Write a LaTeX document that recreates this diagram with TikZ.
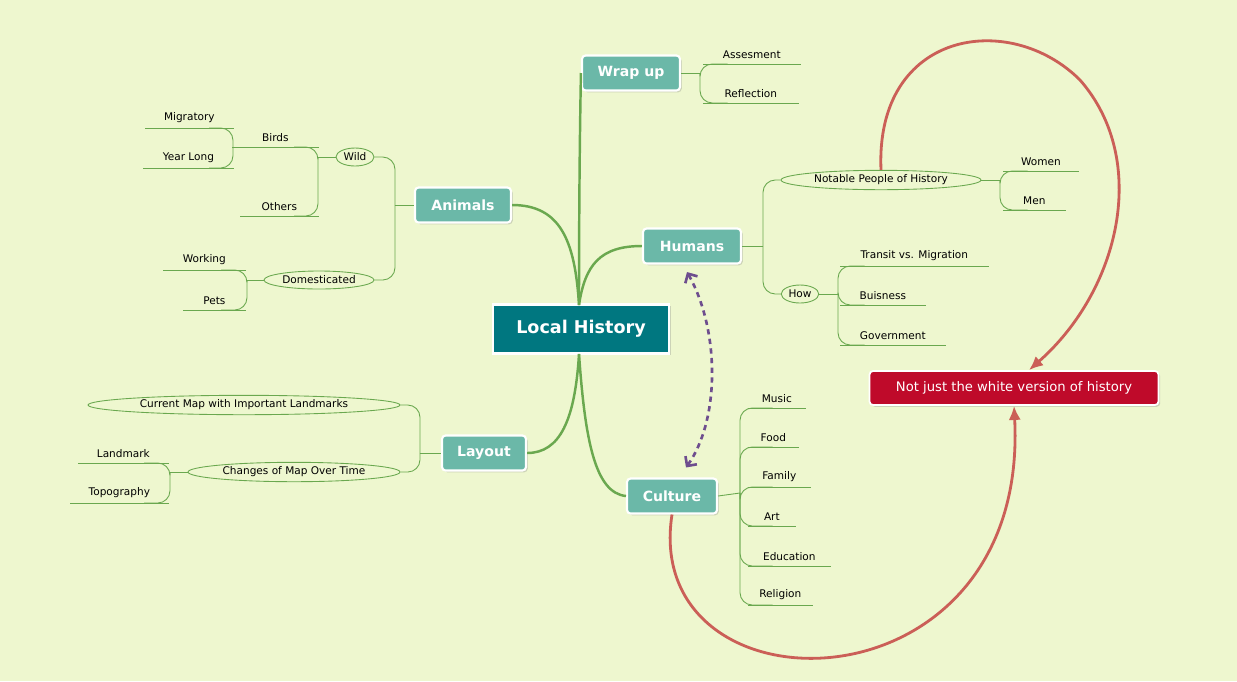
\documentclass[tikz,border=0pt]{standalone}
\usepackage{fontspec}
\setmainfont{DejaVu Sans}
\usetikzlibrary{arrows.meta,shadows,shapes.geometric}
\definecolor{bg}{HTML}{EEF7CF}
\definecolor{br}{HTML}{6AA84F}
\definecolor{tealbox}{HTML}{6BB8A8}
\definecolor{central}{HTML}{007780}
\definecolor{redbox}{HTML}{BF0A2A}
\definecolor{redline}{HTML}{CB5F57}
\definecolor{purp}{HTML}{6E4E8E}
\tikzset{
 main/.style={fill=tealbox,draw=white,line width=1.2pt,rounded corners=2pt,text=white,font=\bfseries\fontsize{8}{9}\selectfont,minimum height=0.7cm,drop shadow={opacity=0.3,shadow xshift=1pt,shadow yshift=-1pt}},
 leaf/.style={anchor=south west,inner xsep=0pt,inner ysep=3pt,font=\fontsize{6}{7}\selectfont,align=center,
   append after command={(\tikzlastnode.south west) edge[twig] (\tikzlastnode.south east)}},
 twig/.style={draw=br,line width=0.5pt},
 jt/.style={draw=br,line width=0.5pt,rounded corners=7pt},
 bough/.style={draw=br,line width=1.4pt},
 ell/.style={ellipse,draw=br,line width=0.5pt,fill=bg,inner sep=1pt,font=\fontsize{6}{7}\selectfont},
}
\newcommand\conR[2]{\draw[jt] (#1) |- ([xshift=14pt]#2.south west);}
\newcommand\conL[2]{\draw[jt] (#1) |- ([xshift=-14pt]#2.south east);}
\begin{document}
\begin{tikzpicture}[x=0.02cm,y=-0.02cm]
\fill[bg] (0,0) rectangle (1237,681);
\useasboundingbox (0,0) rectangle (1237,681);
% boughs first
\coordinate (ct) at (579,305); \coordinate (cb) at (579,354);
\node[fill=central,draw=white,line width=1.5pt,text=white,font=\bfseries\fontsize{10}{12}\selectfont,minimum width=3.52cm,minimum height=0.98cm,drop shadow={opacity=0.3,shadow xshift=1pt,shadow yshift=-1pt}] (c) at (581,329) {Local History};
\node[main,minimum width=1.96cm] (wrap) at (631,73) {Wrap up};
\node[main,minimum width=1.96cm] (hum) at (692,246) {Humans};
\node[main,minimum width=1.92cm] (ani) at (463,205) {Animals};
\node[main,minimum width=1.68cm] (lay) at (484,453) {Layout};
\node[main,minimum width=1.8cm] (cul) at (672,496) {Culture};
\node[fill=redbox,draw=white,line width=1pt,rounded corners=2pt,text=white,font=\fontsize{7.5}{9}\selectfont,minimum width=5.78cm,minimum height=0.68cm,drop shadow={opacity=0.3,shadow xshift=1pt,shadow yshift=-1pt}] (red) at (1014,388) {Not just the white version of history};
\draw[bough] (ct) .. controls (579,200) and (580,120) .. (wrap.west);
\draw[bough] (ct) .. controls (575,240) and (560,205) .. (ani.east);
\draw[bough] (ct) .. controls (585,265) and (600,246) .. (hum.west);
\draw[bough] (cb) .. controls (575,420) and (560,453) .. (lay.east);
\draw[bough] (cb) .. controls (585,440) and (595,493) .. (cul.west);
% Wrap up
\node[leaf,minimum width=1.94cm] (l1) at (703,64) {Assesment};
\node[leaf,minimum width=1.9cm] (l2) at (703,103) {Reflection};
\coordinate (wj) at (700,73);
\draw[twig] (wrap.east) -- (wj);
\conR{wj}{l1} \conR{wj}{l2}
% Animals
\node[ell,minimum width=0.76cm,minimum height=0.36cm] (wild) at (355,157) {Wild};
\node[ell,minimum width=2.2cm,minimum height=0.36cm] (dom) at (319,280) {Domesticated};
\coordinate (aj) at (395,205);
\draw[twig] (ani.west) -- (aj);
\draw[jt] (aj) |- (wild.east); \draw[jt] (aj) |- (dom.east);
\node[leaf,minimum width=1.72cm] (birds) at (232,147) {Birds};
\node[leaf,minimum width=1.56cm] (oth) at (240,216) {Others};
\coordinate (wj2) at (318,157);
\draw[twig] (wild.west) -- (wj2);
\conL{wj2}{birds} \conL{wj2}{oth}
\node[leaf,minimum width=1.76cm] (mig) at (145,128) {Migratory};
\node[leaf,minimum width=1.8cm] (yl) at (143,168) {Year Long};
\coordinate (bj) at (233,148);
\conL{bj}{mig} \conL{bj}{yl}
\node[leaf,minimum width=1.64cm] (work) at (163,270) {Working};
\node[leaf,minimum width=1.24cm] (pets) at (183,310) {Pets};
\coordinate (dj) at (247,280);
\draw[twig] (dom.west) -- (dj);
\conL{dj}{work} \conL{dj}{pets}
% Humans
\node[ell,minimum width=4cm,minimum height=0.36cm] (np) at (881,180) {Notable People of History};
\node[ell,minimum width=0.72cm,minimum height=0.36cm] (how) at (800,294) {How};
\coordinate (hj) at (763,246);
\draw[twig] (hum.east) -- (hj);
\draw[jt] (hj) |- (np.west); \draw[jt] (hj) |- (how.west);
\node[leaf,minimum width=1.5cm] (wom) at (1003,171) {Women};
\node[leaf,minimum width=1.24cm] (men) at (1003,210) {Men};
\coordinate (nj) at (1000,180);
\draw[twig] (np.east) -- (nj);
\conR{nj}{wom} \conR{nj}{men}
\node[leaf,minimum width=2.96cm] (tr) at (840,266) {Transit vs. Migration};
\node[leaf,minimum width=1.7cm] (bus) at (840,305) {Buisness};
\node[leaf,minimum width=2.1cm] (gov) at (840,345) {Government};
\coordinate (howj) at (838,294);
\draw[twig] (how.east) -- (howj);
\conR{howj}{tr} \conR{howj}{bus} \conR{howj}{gov}
% Layout
\node[ell,minimum width=6.24cm,minimum height=0.36cm] (cm) at (244,405) {Current Map with Important Landmarks};
\node[ell,minimum width=4.24cm,minimum height=0.36cm] (chg) at (294,472) {Changes of Map Over Time};
\coordinate (lj) at (420,453);
\draw[twig] (lay.west) -- (lj);
\draw[jt] (lj) |- (cm.east); \draw[jt] (lj) |- (chg.east);
\node[leaf,minimum width=1.8cm] (lm) at (78,463) {Landmark};
\node[leaf,minimum width=1.96cm] (topo) at (70,503) {Topography};
\coordinate (cj) at (170,472);
\draw[twig] (chg.west) -- (cj);
\conL{cj}{lm} \conL{cj}{topo}
% Culture
\node[leaf,minimum width=1.14cm] (m1) at (748,408) {Music};
\node[leaf,minimum width=1.0cm] (m2) at (748,447) {Food};
\node[leaf,minimum width=1.24cm] (m3) at (748,487) {Family};
\node[leaf,minimum width=0.94cm] (m4) at (748,526) {Art};
\node[leaf,minimum width=1.64cm] (m5) at (748,566) {Education};
\node[leaf,minimum width=1.28cm] (m6) at (748,605) {Religion};
\coordinate (kj) at (740,493);
\draw[twig] (cul.east) -- (kj);
\foreach \m in {m1,m2,m3,m4,m5,m6}{\conR{kj}{\m}}
% red relations
\draw[redline,line width=1.6pt,-{Latex[length=8pt,width=7pt]}] (np.north) .. controls (875,30) and (1010,10) .. (1080,80) .. controls (1150,160) and (1120,290) .. ([xshift=0.3cm]red.north);
\draw[redline,line width=1.6pt,-{Latex[length=8pt,width=7pt]}] (cul.south) .. controls (640,720) and (1030,720) .. (red.south);
% purple
\draw[purp,line width=1.5pt,dash pattern=on 3pt off 2.5pt,{Straight Barb[length=4pt,width=8pt]}-{Straight Barb[length=4pt,width=8pt]}] ([xshift=-0.1cm,yshift=-0.15cm]hum.south) .. controls (720,330) and (720,420) .. ([xshift=0.28cm,yshift=0.2cm]cul.north);
\end{tikzpicture}
\end{document}
